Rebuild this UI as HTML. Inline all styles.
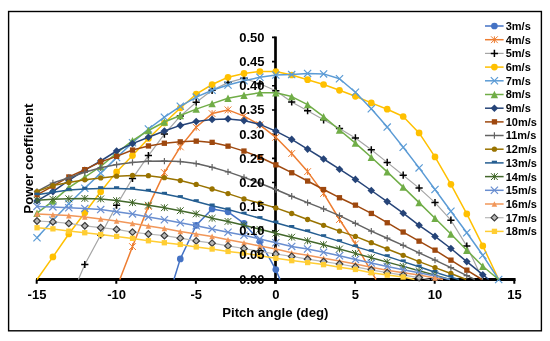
<!DOCTYPE html>
<html><head><meta charset="utf-8"><title>Power coefficient vs pitch angle</title>
<style>html,body{margin:0;padding:0;background:#fff}body{width:550px;height:341px;overflow:hidden;position:relative}</style></head>
<body>
<svg width="550" height="341" viewBox="0 0 550 341" style="position:absolute;left:0;top:0;filter:blur(0.3px)">
<rect x="0" y="0" width="550" height="341" fill="#fff"/>
<rect x="8.6" y="11.5" width="532.8" height="319.3" fill="#fff" stroke="#000" stroke-width="1.4"/>
<g stroke="#000" fill="none">
<path d="M275.5 36.5V283.7" stroke-width="2.7"/>
<path d="M36 279.5H515.6" stroke-width="2.9"/>
<path d="M272.0 279.3H275.5M272.0 255.1H275.5M272.0 230.9H275.5M272.0 206.7H275.5M272.0 182.5H275.5M272.0 158.4H275.5M272.0 134.2H275.5M272.0 110H275.5M272.0 85.8H275.5M272.0 61.6H275.5M272.0 37.4H275.5" stroke-width="1.6"/>
<path d="M36.7 279.5V283.7M116.3 279.5V283.7M195.9 279.5V283.7M275.5 279.5V283.7M355.1 279.5V283.7M434.7 279.5V283.7M514.3 279.5V283.7" stroke-width="2"/>
</g>
<path d="M173.9 279.5L180.3 258.9L196.2 225.3L212.1 208.9L228 211.8L244 223.4L259.9 241.3L275.8 269.6L280 279.5" stroke="#4472C4" stroke-width="1.5" fill="none" stroke-linejoin="round"/>
<circle cx="180.3" cy="258.9" r="3.35" fill="#4472C4"/>
<circle cx="196.2" cy="225.3" r="3.35" fill="#4472C4"/>
<circle cx="212.1" cy="208.9" r="3.35" fill="#4472C4"/>
<circle cx="228" cy="211.8" r="3.35" fill="#4472C4"/>
<circle cx="244" cy="223.4" r="3.35" fill="#4472C4"/>
<circle cx="259.9" cy="241.3" r="3.35" fill="#4472C4"/>
<circle cx="275.8" cy="269.6" r="3.35" fill="#4472C4"/>
<path d="M119.8 279.5L132.5 246.6L148.4 206.4L164.4 172.6L180.3 146.9L196.2 127.3L212.1 113.6L228 109.9L244 116.1L259.9 124.9L275.8 137.3L291.7 153.5L307.6 171.6L323.6 193.4L339.5 219.5L355.4 243.9L371.3 271.5L376 279.5" stroke="#ED7D31" stroke-width="1.5" fill="none" stroke-linejoin="round"/>
<path d="M129.1 243.2L135.9 250M129.1 250L135.9 243.2M132.5 243.2L132.5 250" stroke="#ED7D31" stroke-width="1.0" fill="none"/>
<path d="M145 203L151.8 209.8M145 209.8L151.8 203M148.4 203L148.4 209.8" stroke="#ED7D31" stroke-width="1.0" fill="none"/>
<path d="M161 169.2L167.8 176M161 176L167.8 169.2M164.4 169.2L164.4 176" stroke="#ED7D31" stroke-width="1.0" fill="none"/>
<path d="M176.9 143.5L183.7 150.3M176.9 150.3L183.7 143.5M180.3 143.5L180.3 150.3" stroke="#ED7D31" stroke-width="1.0" fill="none"/>
<path d="M192.8 123.9L199.6 130.7M192.8 130.7L199.6 123.9M196.2 123.9L196.2 130.7" stroke="#ED7D31" stroke-width="1.0" fill="none"/>
<path d="M208.7 110.2L215.5 117M208.7 117L215.5 110.2M212.1 110.2L212.1 117" stroke="#ED7D31" stroke-width="1.0" fill="none"/>
<path d="M224.6 106.5L231.4 113.3M224.6 113.3L231.4 106.5M228 106.5L228 113.3" stroke="#ED7D31" stroke-width="1.0" fill="none"/>
<path d="M240.6 112.7L247.4 119.5M240.6 119.5L247.4 112.7M244 112.7L244 119.5" stroke="#ED7D31" stroke-width="1.0" fill="none"/>
<path d="M256.5 121.5L263.3 128.3M256.5 128.3L263.3 121.5M259.9 121.5L259.9 128.3" stroke="#ED7D31" stroke-width="1.0" fill="none"/>
<path d="M272.4 133.9L279.2 140.7M272.4 140.7L279.2 133.9M275.8 133.9L275.8 140.7" stroke="#ED7D31" stroke-width="1.0" fill="none"/>
<path d="M288.3 150.1L295.1 156.9M288.3 156.9L295.1 150.1M291.7 150.1L291.7 156.9" stroke="#ED7D31" stroke-width="1.0" fill="none"/>
<path d="M304.2 168.2L311 175M304.2 175L311 168.2M307.6 168.2L307.6 175" stroke="#ED7D31" stroke-width="1.0" fill="none"/>
<path d="M320.2 190L327 196.8M320.2 196.8L327 190M323.6 190L323.6 196.8" stroke="#ED7D31" stroke-width="1.0" fill="none"/>
<path d="M336.1 216.1L342.9 222.9M336.1 222.9L342.9 216.1M339.5 216.1L339.5 222.9" stroke="#ED7D31" stroke-width="1.0" fill="none"/>
<path d="M352 240.5L358.8 247.3M352 247.3L358.8 240.5M355.4 240.5L355.4 247.3" stroke="#ED7D31" stroke-width="1.0" fill="none"/>
<path d="M367.9 268.1L374.7 274.9M367.9 274.9L374.7 268.1M371.3 268.1L371.3 274.9" stroke="#ED7D31" stroke-width="1.0" fill="none"/>
<path d="M78.4 279.5L84.8 264.5L100.7 235L116.6 205.2L132.5 178.4L148.4 155.6L164.4 134.1L180.3 116.1L196.2 102.2L212.1 90.3L228 82.6L244 78.2L259.9 83.8L275.8 90.8L291.7 101.9L307.6 110.7L323.6 119.8L339.5 128.6L355.4 137.9L371.3 149.8L387.2 162.4L403.2 175.2L419.1 188.1L435 202.6L450.9 220.2L466.8 246.1L482.7 279.5" stroke="#A5A5A5" stroke-width="1.2" fill="none" stroke-linejoin="round"/>
<path d="M81.2 264.5L88.4 264.5M84.8 260.9L84.8 268.1" stroke="#000" stroke-width="1.5" fill="none"/>
<path d="M97.1 235L104.3 235M100.7 231.4L100.7 238.6" stroke="#000" stroke-width="1.5" fill="none"/>
<path d="M113 205.2L120.2 205.2M116.6 201.6L116.6 208.8" stroke="#000" stroke-width="1.5" fill="none"/>
<path d="M128.9 178.4L136.1 178.4M132.5 174.8L132.5 182" stroke="#000" stroke-width="1.5" fill="none"/>
<path d="M144.8 155.6L152 155.6M148.4 152L148.4 159.2" stroke="#000" stroke-width="1.5" fill="none"/>
<path d="M160.8 134.1L168 134.1M164.4 130.5L164.4 137.7" stroke="#000" stroke-width="1.5" fill="none"/>
<path d="M176.7 116.1L183.9 116.1M180.3 112.5L180.3 119.7" stroke="#000" stroke-width="1.5" fill="none"/>
<path d="M192.6 102.2L199.8 102.2M196.2 98.6L196.2 105.8" stroke="#000" stroke-width="1.5" fill="none"/>
<path d="M208.5 90.3L215.7 90.3M212.1 86.7L212.1 93.9" stroke="#000" stroke-width="1.5" fill="none"/>
<path d="M224.4 82.6L231.6 82.6M228 79L228 86.2" stroke="#000" stroke-width="1.5" fill="none"/>
<path d="M240.4 78.2L247.6 78.2M244 74.6L244 81.8" stroke="#000" stroke-width="1.5" fill="none"/>
<path d="M256.3 83.8L263.5 83.8M259.9 80.2L259.9 87.4" stroke="#000" stroke-width="1.5" fill="none"/>
<path d="M272.2 90.8L279.4 90.8M275.8 87.2L275.8 94.4" stroke="#000" stroke-width="1.5" fill="none"/>
<path d="M288.1 101.9L295.3 101.9M291.7 98.3L291.7 105.5" stroke="#000" stroke-width="1.5" fill="none"/>
<path d="M304 110.7L311.2 110.7M307.6 107.1L307.6 114.3" stroke="#000" stroke-width="1.5" fill="none"/>
<path d="M320 119.8L327.2 119.8M323.6 116.2L323.6 123.4" stroke="#000" stroke-width="1.5" fill="none"/>
<path d="M335.9 128.6L343.1 128.6M339.5 125L339.5 132.2" stroke="#000" stroke-width="1.5" fill="none"/>
<path d="M351.8 137.9L359 137.9M355.4 134.3L355.4 141.5" stroke="#000" stroke-width="1.5" fill="none"/>
<path d="M367.7 149.8L374.9 149.8M371.3 146.2L371.3 153.4" stroke="#000" stroke-width="1.5" fill="none"/>
<path d="M383.6 162.4L390.8 162.4M387.2 158.8L387.2 166" stroke="#000" stroke-width="1.5" fill="none"/>
<path d="M399.6 175.2L406.8 175.2M403.2 171.6L403.2 178.8" stroke="#000" stroke-width="1.5" fill="none"/>
<path d="M415.5 188.1L422.7 188.1M419.1 184.5L419.1 191.7" stroke="#000" stroke-width="1.5" fill="none"/>
<path d="M431.4 202.6L438.6 202.6M435 199L435 206.2" stroke="#000" stroke-width="1.5" fill="none"/>
<path d="M447.3 220.2L454.5 220.2M450.9 216.6L450.9 223.8" stroke="#000" stroke-width="1.5" fill="none"/>
<path d="M463.2 246.1L470.4 246.1M466.8 242.5L466.8 249.7" stroke="#000" stroke-width="1.5" fill="none"/>
<path d="M37 279.5L52.9 256.9L68.8 234L84.8 212.7L100.7 191.7L116.6 171.9L132.5 155.6L148.4 138.5L164.4 123L180.3 108L196.2 94.2L212.1 84.5L228 77.3L244 73.4L259.9 71.5L275.8 71.5L291.7 75L307.6 79.7L323.6 84.5L339.5 90.3L355.4 96.3L371.3 102.9L387.2 109.2L403.2 116.5L419.1 132.9L435 156.9L450.9 184.3L466.8 213.9L482.8 245.9L498.7 279.5" stroke="#FFC000" stroke-width="1.5" fill="none" stroke-linejoin="round"/>
<circle cx="52.9" cy="256.9" r="3.35" fill="#FFC000"/>
<circle cx="68.8" cy="234" r="3.35" fill="#FFC000"/>
<circle cx="84.8" cy="212.7" r="3.35" fill="#FFC000"/>
<circle cx="100.7" cy="191.7" r="3.35" fill="#FFC000"/>
<circle cx="116.6" cy="171.9" r="3.35" fill="#FFC000"/>
<circle cx="132.5" cy="155.6" r="3.35" fill="#FFC000"/>
<circle cx="148.4" cy="138.5" r="3.35" fill="#FFC000"/>
<circle cx="164.4" cy="123" r="3.35" fill="#FFC000"/>
<circle cx="180.3" cy="108" r="3.35" fill="#FFC000"/>
<circle cx="196.2" cy="94.2" r="3.35" fill="#FFC000"/>
<circle cx="212.1" cy="84.5" r="3.35" fill="#FFC000"/>
<circle cx="228" cy="77.3" r="3.35" fill="#FFC000"/>
<circle cx="244" cy="73.4" r="3.35" fill="#FFC000"/>
<circle cx="259.9" cy="71.5" r="3.35" fill="#FFC000"/>
<circle cx="275.8" cy="71.5" r="3.35" fill="#FFC000"/>
<circle cx="291.7" cy="75" r="3.35" fill="#FFC000"/>
<circle cx="307.6" cy="79.7" r="3.35" fill="#FFC000"/>
<circle cx="323.6" cy="84.5" r="3.35" fill="#FFC000"/>
<circle cx="339.5" cy="90.3" r="3.35" fill="#FFC000"/>
<circle cx="355.4" cy="96.3" r="3.35" fill="#FFC000"/>
<circle cx="371.3" cy="102.9" r="3.35" fill="#FFC000"/>
<circle cx="387.2" cy="109.2" r="3.35" fill="#FFC000"/>
<circle cx="403.2" cy="116.5" r="3.35" fill="#FFC000"/>
<circle cx="419.1" cy="132.9" r="3.35" fill="#FFC000"/>
<circle cx="435" cy="156.9" r="3.35" fill="#FFC000"/>
<circle cx="450.9" cy="184.3" r="3.35" fill="#FFC000"/>
<circle cx="466.8" cy="213.9" r="3.35" fill="#FFC000"/>
<circle cx="482.8" cy="245.9" r="3.35" fill="#FFC000"/>
<path d="M37 237.7L52.9 220.2L68.8 203.8L84.8 188.3L100.7 173.1L116.6 157.6L132.5 142.7L148.4 129L164.4 117.2L180.3 106.3L196.2 97.1L212.1 90.3L228 85L244 80.7L259.9 77.3L275.8 75L291.7 74.6L307.6 73.4L323.6 73.9L339.5 78.7L355.4 92.3L371.3 108.7L387.2 127.1L403.2 147.2L419.1 167.9L435 189.5L450.9 211.3L466.8 232.7L482.8 255.3L498.7 279.5" stroke="#5B9BD5" stroke-width="1.5" fill="none" stroke-linejoin="round"/>
<path d="M33.4 234.1L40.6 241.3M33.4 241.3L40.6 234.1" stroke="#5B9BD5" stroke-width="1.2" fill="none"/>
<path d="M49.3 216.6L56.5 223.8M49.3 223.8L56.5 216.6" stroke="#5B9BD5" stroke-width="1.2" fill="none"/>
<path d="M65.2 200.2L72.4 207.4M65.2 207.4L72.4 200.2" stroke="#5B9BD5" stroke-width="1.2" fill="none"/>
<path d="M81.2 184.7L88.4 191.9M81.2 191.9L88.4 184.7" stroke="#5B9BD5" stroke-width="1.2" fill="none"/>
<path d="M97.1 169.5L104.3 176.7M97.1 176.7L104.3 169.5" stroke="#5B9BD5" stroke-width="1.2" fill="none"/>
<path d="M113 154L120.2 161.2M113 161.2L120.2 154" stroke="#5B9BD5" stroke-width="1.2" fill="none"/>
<path d="M128.9 139.1L136.1 146.3M128.9 146.3L136.1 139.1" stroke="#5B9BD5" stroke-width="1.2" fill="none"/>
<path d="M144.8 125.4L152 132.6M144.8 132.6L152 125.4" stroke="#5B9BD5" stroke-width="1.2" fill="none"/>
<path d="M160.8 113.6L168 120.8M160.8 120.8L168 113.6" stroke="#5B9BD5" stroke-width="1.2" fill="none"/>
<path d="M176.7 102.7L183.9 109.9M176.7 109.9L183.9 102.7" stroke="#5B9BD5" stroke-width="1.2" fill="none"/>
<path d="M192.6 93.5L199.8 100.7M192.6 100.7L199.8 93.5" stroke="#5B9BD5" stroke-width="1.2" fill="none"/>
<path d="M208.5 86.7L215.7 93.9M208.5 93.9L215.7 86.7" stroke="#5B9BD5" stroke-width="1.2" fill="none"/>
<path d="M224.4 81.4L231.6 88.6M224.4 88.6L231.6 81.4" stroke="#5B9BD5" stroke-width="1.2" fill="none"/>
<path d="M240.4 77.1L247.6 84.3M240.4 84.3L247.6 77.1" stroke="#5B9BD5" stroke-width="1.2" fill="none"/>
<path d="M256.3 73.7L263.5 80.9M256.3 80.9L263.5 73.7" stroke="#5B9BD5" stroke-width="1.2" fill="none"/>
<path d="M272.2 71.4L279.4 78.6M272.2 78.6L279.4 71.4" stroke="#5B9BD5" stroke-width="1.2" fill="none"/>
<path d="M288.1 71L295.3 78.2M288.1 78.2L295.3 71" stroke="#5B9BD5" stroke-width="1.2" fill="none"/>
<path d="M304 69.8L311.2 77M304 77L311.2 69.8" stroke="#5B9BD5" stroke-width="1.2" fill="none"/>
<path d="M320 70.3L327.2 77.5M320 77.5L327.2 70.3" stroke="#5B9BD5" stroke-width="1.2" fill="none"/>
<path d="M335.9 75.1L343.1 82.3M335.9 82.3L343.1 75.1" stroke="#5B9BD5" stroke-width="1.2" fill="none"/>
<path d="M351.8 88.7L359 95.9M351.8 95.9L359 88.7" stroke="#5B9BD5" stroke-width="1.2" fill="none"/>
<path d="M367.7 105.1L374.9 112.3M367.7 112.3L374.9 105.1" stroke="#5B9BD5" stroke-width="1.2" fill="none"/>
<path d="M383.6 123.5L390.8 130.7M383.6 130.7L390.8 123.5" stroke="#5B9BD5" stroke-width="1.2" fill="none"/>
<path d="M399.6 143.6L406.8 150.8M399.6 150.8L406.8 143.6" stroke="#5B9BD5" stroke-width="1.2" fill="none"/>
<path d="M415.5 164.3L422.7 171.5M415.5 171.5L422.7 164.3" stroke="#5B9BD5" stroke-width="1.2" fill="none"/>
<path d="M431.4 185.9L438.6 193.1M431.4 193.1L438.6 185.9" stroke="#5B9BD5" stroke-width="1.2" fill="none"/>
<path d="M447.3 207.7L454.5 214.9M447.3 214.9L454.5 207.7" stroke="#5B9BD5" stroke-width="1.2" fill="none"/>
<path d="M463.2 229.1L470.4 236.3M463.2 236.3L470.4 229.1" stroke="#5B9BD5" stroke-width="1.2" fill="none"/>
<path d="M479.2 251.7L486.4 258.9M479.2 258.9L486.4 251.7" stroke="#5B9BD5" stroke-width="1.2" fill="none"/>
<path d="M495.1 275.9L502.3 283.1M495.1 283.1L502.3 275.9" stroke="#5B9BD5" stroke-width="1.2" fill="none"/>
<path d="M37 213.2L52.9 201.1L68.8 187.6L84.8 177.2L100.7 166.5L116.6 153.2L132.5 140.6L148.4 130.5L164.4 122L180.3 115.5L196.2 109.1L212.1 103.6L228 98.3L244 95.2L259.9 92.8L275.8 92.8L291.7 96.6L307.6 104.6L323.6 116.7L339.5 130L355.4 143.1L371.3 157.3L387.2 171.9L403.2 187.1L419.1 202.6L435 218.2L450.9 234L466.8 250.2L482.8 266.2L498.6 279.5" stroke="#70AD47" stroke-width="1.5" fill="none" stroke-linejoin="round"/>
<path d="M37 209.5L40.7 216.9L33.3 216.9Z" fill="#70AD47"/>
<path d="M52.9 197.4L56.6 204.8L49.2 204.8Z" fill="#70AD47"/>
<path d="M68.8 183.9L72.5 191.3L65.1 191.3Z" fill="#70AD47"/>
<path d="M84.8 173.5L88.5 180.9L81.1 180.9Z" fill="#70AD47"/>
<path d="M100.7 162.8L104.4 170.2L97 170.2Z" fill="#70AD47"/>
<path d="M116.6 149.5L120.3 156.9L112.9 156.9Z" fill="#70AD47"/>
<path d="M132.5 136.9L136.2 144.3L128.8 144.3Z" fill="#70AD47"/>
<path d="M148.4 126.8L152.1 134.2L144.7 134.2Z" fill="#70AD47"/>
<path d="M164.4 118.3L168.1 125.7L160.7 125.7Z" fill="#70AD47"/>
<path d="M180.3 111.8L184 119.2L176.6 119.2Z" fill="#70AD47"/>
<path d="M196.2 105.4L199.9 112.8L192.5 112.8Z" fill="#70AD47"/>
<path d="M212.1 99.9L215.8 107.3L208.4 107.3Z" fill="#70AD47"/>
<path d="M228 94.6L231.7 102L224.3 102Z" fill="#70AD47"/>
<path d="M244 91.5L247.7 98.9L240.3 98.9Z" fill="#70AD47"/>
<path d="M259.9 89.1L263.6 96.5L256.2 96.5Z" fill="#70AD47"/>
<path d="M275.8 89.1L279.5 96.5L272.1 96.5Z" fill="#70AD47"/>
<path d="M291.7 92.9L295.4 100.3L288 100.3Z" fill="#70AD47"/>
<path d="M307.6 100.9L311.3 108.3L303.9 108.3Z" fill="#70AD47"/>
<path d="M323.6 113L327.3 120.4L319.9 120.4Z" fill="#70AD47"/>
<path d="M339.5 126.3L343.2 133.7L335.8 133.7Z" fill="#70AD47"/>
<path d="M355.4 139.4L359.1 146.8L351.7 146.8Z" fill="#70AD47"/>
<path d="M371.3 153.6L375 161L367.6 161Z" fill="#70AD47"/>
<path d="M387.2 168.2L390.9 175.6L383.5 175.6Z" fill="#70AD47"/>
<path d="M403.2 183.4L406.9 190.8L399.5 190.8Z" fill="#70AD47"/>
<path d="M419.1 198.9L422.8 206.3L415.4 206.3Z" fill="#70AD47"/>
<path d="M435 214.5L438.7 221.9L431.3 221.9Z" fill="#70AD47"/>
<path d="M450.9 230.3L454.6 237.7L447.2 237.7Z" fill="#70AD47"/>
<path d="M466.8 246.5L470.5 253.9L463.1 253.9Z" fill="#70AD47"/>
<path d="M482.8 262.5L486.5 269.9L479.1 269.9Z" fill="#70AD47"/>
<path d="M37 200.9L52.9 191.6L68.8 180.3L84.8 170.2L100.7 161L116.6 151L132.5 143.6L148.4 137.3L164.4 131L180.3 125.4L196.2 121.5L212.1 119.4L228 118.9L244 120.6L259.9 124.4L275.8 131.1L291.7 139.4L307.6 149.1L323.6 159L339.5 169.2L355.4 179.4L371.3 190.5L387.2 201.6L403.2 213.2L419.1 225.3L435 236.4L450.9 248.5L466.8 261.6L482.8 274.7L488.7 279.5" stroke="#264478" stroke-width="1.5" fill="none" stroke-linejoin="round"/>
<path d="M37 197.1L40.8 200.9L37 204.7L33.2 200.9Z" fill="#264478"/>
<path d="M52.9 187.8L56.7 191.6L52.9 195.4L49.1 191.6Z" fill="#264478"/>
<path d="M68.8 176.5L72.6 180.3L68.8 184.1L65 180.3Z" fill="#264478"/>
<path d="M84.8 166.4L88.6 170.2L84.8 174L81 170.2Z" fill="#264478"/>
<path d="M100.7 157.2L104.5 161L100.7 164.8L96.9 161Z" fill="#264478"/>
<path d="M116.6 147.2L120.4 151L116.6 154.8L112.8 151Z" fill="#264478"/>
<path d="M132.5 139.8L136.3 143.6L132.5 147.4L128.7 143.6Z" fill="#264478"/>
<path d="M148.4 133.5L152.2 137.3L148.4 141.1L144.6 137.3Z" fill="#264478"/>
<path d="M164.4 127.2L168.2 131L164.4 134.8L160.6 131Z" fill="#264478"/>
<path d="M180.3 121.6L184.1 125.4L180.3 129.2L176.5 125.4Z" fill="#264478"/>
<path d="M196.2 117.7L200 121.5L196.2 125.3L192.4 121.5Z" fill="#264478"/>
<path d="M212.1 115.6L215.9 119.4L212.1 123.2L208.3 119.4Z" fill="#264478"/>
<path d="M228 115.1L231.8 118.9L228 122.7L224.2 118.9Z" fill="#264478"/>
<path d="M244 116.8L247.8 120.6L244 124.4L240.2 120.6Z" fill="#264478"/>
<path d="M259.9 120.6L263.7 124.4L259.9 128.2L256.1 124.4Z" fill="#264478"/>
<path d="M275.8 127.3L279.6 131.1L275.8 134.9L272 131.1Z" fill="#264478"/>
<path d="M291.7 135.6L295.5 139.4L291.7 143.2L287.9 139.4Z" fill="#264478"/>
<path d="M307.6 145.3L311.4 149.1L307.6 152.9L303.8 149.1Z" fill="#264478"/>
<path d="M323.6 155.2L327.4 159L323.6 162.8L319.8 159Z" fill="#264478"/>
<path d="M339.5 165.4L343.3 169.2L339.5 173L335.7 169.2Z" fill="#264478"/>
<path d="M355.4 175.6L359.2 179.4L355.4 183.2L351.6 179.4Z" fill="#264478"/>
<path d="M371.3 186.7L375.1 190.5L371.3 194.3L367.5 190.5Z" fill="#264478"/>
<path d="M387.2 197.8L391 201.6L387.2 205.4L383.4 201.6Z" fill="#264478"/>
<path d="M403.2 209.4L407 213.2L403.2 217L399.4 213.2Z" fill="#264478"/>
<path d="M419.1 221.5L422.9 225.3L419.1 229.1L415.3 225.3Z" fill="#264478"/>
<path d="M435 232.6L438.8 236.4L435 240.2L431.2 236.4Z" fill="#264478"/>
<path d="M450.9 244.7L454.7 248.5L450.9 252.3L447.1 248.5Z" fill="#264478"/>
<path d="M466.8 257.8L470.6 261.6L466.8 265.4L463 261.6Z" fill="#264478"/>
<path d="M482.8 270.9L486.6 274.7L482.8 278.5L479 274.7Z" fill="#264478"/>
<path d="M37 194.8L52.9 186.1L68.8 176.9L84.8 169.7L100.7 161.9L116.6 156.4L132.5 150L148.4 146L164.4 143.3L180.3 141.8L196.2 141.1L212.1 142.4L228 146.1L244 151.1L259.9 157.3L275.8 164.8L291.7 172.7L307.6 181L323.6 189.5L339.5 197.7L355.4 205.2L371.3 213.4L387.2 222.7L403.2 232.1L419.1 241.1L435 250.2L450.9 260.1L466.8 270.2L482 279.5" stroke="#9E480E" stroke-width="1.5" fill="none" stroke-linejoin="round"/>
<rect x="34.4" y="192.2" width="5.3" height="5.3" fill="#9E480E"/>
<rect x="50.3" y="183.5" width="5.3" height="5.3" fill="#9E480E"/>
<rect x="66.2" y="174.3" width="5.3" height="5.3" fill="#9E480E"/>
<rect x="82.1" y="167" width="5.3" height="5.3" fill="#9E480E"/>
<rect x="98" y="159.3" width="5.3" height="5.3" fill="#9E480E"/>
<rect x="114" y="153.7" width="5.3" height="5.3" fill="#9E480E"/>
<rect x="129.9" y="147.4" width="5.3" height="5.3" fill="#9E480E"/>
<rect x="145.8" y="143.3" width="5.3" height="5.3" fill="#9E480E"/>
<rect x="161.7" y="140.6" width="5.3" height="5.3" fill="#9E480E"/>
<rect x="177.6" y="139.2" width="5.3" height="5.3" fill="#9E480E"/>
<rect x="193.6" y="138.5" width="5.3" height="5.3" fill="#9E480E"/>
<rect x="209.5" y="139.7" width="5.3" height="5.3" fill="#9E480E"/>
<rect x="225.4" y="143.5" width="5.3" height="5.3" fill="#9E480E"/>
<rect x="241.3" y="148.4" width="5.3" height="5.3" fill="#9E480E"/>
<rect x="257.2" y="154.7" width="5.3" height="5.3" fill="#9E480E"/>
<rect x="273.2" y="162.2" width="5.3" height="5.3" fill="#9E480E"/>
<rect x="289.1" y="170.1" width="5.3" height="5.3" fill="#9E480E"/>
<rect x="305" y="178.4" width="5.3" height="5.3" fill="#9E480E"/>
<rect x="320.9" y="186.9" width="5.3" height="5.3" fill="#9E480E"/>
<rect x="336.8" y="195.1" width="5.3" height="5.3" fill="#9E480E"/>
<rect x="352.8" y="202.5" width="5.3" height="5.3" fill="#9E480E"/>
<rect x="368.7" y="210.8" width="5.3" height="5.3" fill="#9E480E"/>
<rect x="384.6" y="220.1" width="5.3" height="5.3" fill="#9E480E"/>
<rect x="400.5" y="229.4" width="5.3" height="5.3" fill="#9E480E"/>
<rect x="416.4" y="238.5" width="5.3" height="5.3" fill="#9E480E"/>
<rect x="432.4" y="247.5" width="5.3" height="5.3" fill="#9E480E"/>
<rect x="448.3" y="257.5" width="5.3" height="5.3" fill="#9E480E"/>
<rect x="464.2" y="267.5" width="5.3" height="5.3" fill="#9E480E"/>
<path d="M37 191.4L52.9 183L68.8 177.7L84.8 172.3L100.7 167.7L116.6 164.6L132.5 162.4L148.4 161.2L164.4 161.1L180.3 161.6L196.2 163.6L212.1 167.3L228 171.9L244 177.4L259.9 183.2L275.8 189.5L291.7 196.3L307.6 202.6L323.6 208.9L339.5 215.6L355.4 223.4L371.3 231.1L387.2 238.2L403.2 245.4L419.1 252.9L435 260.1L450.9 267.6L466.8 275.6L474.8 279.5" stroke="#636363" stroke-width="1.5" fill="none" stroke-linejoin="round"/>
<path d="M33.8 191.4L40.2 191.4M37 188.2L37 194.6" stroke="#636363" stroke-width="1.2" fill="none"/>
<path d="M49.7 183L56.1 183M52.9 179.8L52.9 186.2" stroke="#636363" stroke-width="1.2" fill="none"/>
<path d="M65.6 177.7L72 177.7M68.8 174.5L68.8 180.9" stroke="#636363" stroke-width="1.2" fill="none"/>
<path d="M81.6 172.3L88 172.3M84.8 169.1L84.8 175.5" stroke="#636363" stroke-width="1.2" fill="none"/>
<path d="M97.5 167.7L103.9 167.7M100.7 164.5L100.7 170.9" stroke="#636363" stroke-width="1.2" fill="none"/>
<path d="M113.4 164.6L119.8 164.6M116.6 161.4L116.6 167.8" stroke="#636363" stroke-width="1.2" fill="none"/>
<path d="M129.3 162.4L135.7 162.4M132.5 159.2L132.5 165.6" stroke="#636363" stroke-width="1.2" fill="none"/>
<path d="M145.2 161.2L151.6 161.2M148.4 158L148.4 164.4" stroke="#636363" stroke-width="1.2" fill="none"/>
<path d="M161.2 161.1L167.6 161.1M164.4 157.9L164.4 164.3" stroke="#636363" stroke-width="1.2" fill="none"/>
<path d="M177.1 161.6L183.5 161.6M180.3 158.4L180.3 164.8" stroke="#636363" stroke-width="1.2" fill="none"/>
<path d="M193 163.6L199.4 163.6M196.2 160.4L196.2 166.8" stroke="#636363" stroke-width="1.2" fill="none"/>
<path d="M208.9 167.3L215.3 167.3M212.1 164.1L212.1 170.5" stroke="#636363" stroke-width="1.2" fill="none"/>
<path d="M224.8 171.9L231.2 171.9M228 168.7L228 175.1" stroke="#636363" stroke-width="1.2" fill="none"/>
<path d="M240.8 177.4L247.2 177.4M244 174.2L244 180.6" stroke="#636363" stroke-width="1.2" fill="none"/>
<path d="M256.7 183.2L263.1 183.2M259.9 180L259.9 186.4" stroke="#636363" stroke-width="1.2" fill="none"/>
<path d="M272.6 189.5L279 189.5M275.8 186.3L275.8 192.7" stroke="#636363" stroke-width="1.2" fill="none"/>
<path d="M288.5 196.3L294.9 196.3M291.7 193.1L291.7 199.5" stroke="#636363" stroke-width="1.2" fill="none"/>
<path d="M304.4 202.6L310.8 202.6M307.6 199.4L307.6 205.8" stroke="#636363" stroke-width="1.2" fill="none"/>
<path d="M320.4 208.9L326.8 208.9M323.6 205.7L323.6 212.1" stroke="#636363" stroke-width="1.2" fill="none"/>
<path d="M336.3 215.6L342.7 215.6M339.5 212.4L339.5 218.8" stroke="#636363" stroke-width="1.2" fill="none"/>
<path d="M352.2 223.4L358.6 223.4M355.4 220.2L355.4 226.6" stroke="#636363" stroke-width="1.2" fill="none"/>
<path d="M368.1 231.1L374.5 231.1M371.3 227.9L371.3 234.3" stroke="#636363" stroke-width="1.2" fill="none"/>
<path d="M384 238.2L390.4 238.2M387.2 235L387.2 241.4" stroke="#636363" stroke-width="1.2" fill="none"/>
<path d="M400 245.4L406.4 245.4M403.2 242.2L403.2 248.6" stroke="#636363" stroke-width="1.2" fill="none"/>
<path d="M415.9 252.9L422.3 252.9M419.1 249.7L419.1 256.1" stroke="#636363" stroke-width="1.2" fill="none"/>
<path d="M431.8 260.1L438.2 260.1M435 256.9L435 263.3" stroke="#636363" stroke-width="1.2" fill="none"/>
<path d="M447.7 267.6L454.1 267.6M450.9 264.4L450.9 270.8" stroke="#636363" stroke-width="1.2" fill="none"/>
<path d="M463.6 275.6L470 275.6M466.8 272.4L466.8 278.8" stroke="#636363" stroke-width="1.2" fill="none"/>
<path d="M37 191.6L52.9 185.6L68.8 182.4L84.8 179.8L100.7 177.9L116.6 176.2L132.5 175.5L148.4 175.7L164.4 177.7L180.3 180.6L196.2 184.4L212.1 189L228 193.6L244 198.9L259.9 203.2L275.8 207.9L291.7 213.5L307.6 219.5L323.6 225.3L339.5 231.1L355.4 236.4L371.3 242.7L387.2 249L403.2 255.3L419.1 261.6L435 267.6L450.9 273.5L466.2 279.5" stroke="#997300" stroke-width="1.5" fill="none" stroke-linejoin="round"/>
<circle cx="37" cy="191.6" r="2.65" fill="#997300"/>
<circle cx="52.9" cy="185.6" r="2.65" fill="#997300"/>
<circle cx="68.8" cy="182.4" r="2.65" fill="#997300"/>
<circle cx="84.8" cy="179.8" r="2.65" fill="#997300"/>
<circle cx="100.7" cy="177.9" r="2.65" fill="#997300"/>
<circle cx="116.6" cy="176.2" r="2.65" fill="#997300"/>
<circle cx="132.5" cy="175.5" r="2.65" fill="#997300"/>
<circle cx="148.4" cy="175.7" r="2.65" fill="#997300"/>
<circle cx="164.4" cy="177.7" r="2.65" fill="#997300"/>
<circle cx="180.3" cy="180.6" r="2.65" fill="#997300"/>
<circle cx="196.2" cy="184.4" r="2.65" fill="#997300"/>
<circle cx="212.1" cy="189" r="2.65" fill="#997300"/>
<circle cx="228" cy="193.6" r="2.65" fill="#997300"/>
<circle cx="244" cy="198.9" r="2.65" fill="#997300"/>
<circle cx="259.9" cy="203.2" r="2.65" fill="#997300"/>
<circle cx="275.8" cy="207.9" r="2.65" fill="#997300"/>
<circle cx="291.7" cy="213.5" r="2.65" fill="#997300"/>
<circle cx="307.6" cy="219.5" r="2.65" fill="#997300"/>
<circle cx="323.6" cy="225.3" r="2.65" fill="#997300"/>
<circle cx="339.5" cy="231.1" r="2.65" fill="#997300"/>
<circle cx="355.4" cy="236.4" r="2.65" fill="#997300"/>
<circle cx="371.3" cy="242.7" r="2.65" fill="#997300"/>
<circle cx="387.2" cy="249" r="2.65" fill="#997300"/>
<circle cx="403.2" cy="255.3" r="2.65" fill="#997300"/>
<circle cx="419.1" cy="261.6" r="2.65" fill="#997300"/>
<circle cx="435" cy="267.6" r="2.65" fill="#997300"/>
<circle cx="450.9" cy="273.5" r="2.65" fill="#997300"/>
<path d="M37 194.8L52.9 192.2L68.8 190L84.8 189L100.7 188.4L116.6 188.4L132.5 189L148.4 191L164.4 194L180.3 197.3L196.2 201.4L212.1 205.7L228 209.6L244 213.9L259.9 218.3L275.8 222.7L291.7 227.2L307.6 231.5L323.6 236.4L339.5 241.4L355.4 246.6L371.3 251.4L387.2 256.4L403.2 261.6L419.1 266.7L435 272.2L450.9 277.1L458.9 279.5" stroke="#255E91" stroke-width="1.5" fill="none" stroke-linejoin="round"/>
<rect x="34.4" y="192.6" width="5.2" height="2.4" fill="#255E91"/>
<rect x="50.3" y="190" width="5.2" height="2.4" fill="#255E91"/>
<rect x="66.2" y="187.8" width="5.2" height="2.4" fill="#255E91"/>
<rect x="82.2" y="186.8" width="5.2" height="2.4" fill="#255E91"/>
<rect x="98.1" y="186.2" width="5.2" height="2.4" fill="#255E91"/>
<rect x="114" y="186.2" width="5.2" height="2.4" fill="#255E91"/>
<rect x="129.9" y="186.8" width="5.2" height="2.4" fill="#255E91"/>
<rect x="145.8" y="188.8" width="5.2" height="2.4" fill="#255E91"/>
<rect x="161.8" y="191.8" width="5.2" height="2.4" fill="#255E91"/>
<rect x="177.7" y="195.1" width="5.2" height="2.4" fill="#255E91"/>
<rect x="193.6" y="199.2" width="5.2" height="2.4" fill="#255E91"/>
<rect x="209.5" y="203.5" width="5.2" height="2.4" fill="#255E91"/>
<rect x="225.4" y="207.4" width="5.2" height="2.4" fill="#255E91"/>
<rect x="241.4" y="211.7" width="5.2" height="2.4" fill="#255E91"/>
<rect x="257.3" y="216.1" width="5.2" height="2.4" fill="#255E91"/>
<rect x="273.2" y="220.5" width="5.2" height="2.4" fill="#255E91"/>
<rect x="289.1" y="225" width="5.2" height="2.4" fill="#255E91"/>
<rect x="305" y="229.3" width="5.2" height="2.4" fill="#255E91"/>
<rect x="321" y="234.2" width="5.2" height="2.4" fill="#255E91"/>
<rect x="336.9" y="239.2" width="5.2" height="2.4" fill="#255E91"/>
<rect x="352.8" y="244.4" width="5.2" height="2.4" fill="#255E91"/>
<rect x="368.7" y="249.2" width="5.2" height="2.4" fill="#255E91"/>
<rect x="384.6" y="254.2" width="5.2" height="2.4" fill="#255E91"/>
<rect x="400.6" y="259.4" width="5.2" height="2.4" fill="#255E91"/>
<rect x="416.5" y="264.5" width="5.2" height="2.4" fill="#255E91"/>
<rect x="432.4" y="270" width="5.2" height="2.4" fill="#255E91"/>
<rect x="448.3" y="274.9" width="5.2" height="2.4" fill="#255E91"/>
<path d="M37 200.2L52.9 199.2L68.8 198.8L84.8 198.4L100.7 198.9L116.6 200.6L132.5 202.7L148.4 205.2L164.4 207.7L180.3 210.7L196.2 213.9L212.1 218.3L228 221.4L244 225.2L259.9 229.3L275.8 233.2L291.7 237.2L307.6 240.8L323.6 244.7L339.5 249L355.4 253.4L371.3 257.7L387.2 262.1L403.2 266.4L419.1 270.8L435 275.1L450.1 279.5" stroke="#43682B" stroke-width="1.5" fill="none" stroke-linejoin="round"/>
<path d="M33.6 196.8L40.4 203.6M33.6 203.6L40.4 196.8M37 196.8L37 203.6" stroke="#43682B" stroke-width="1.0" fill="none"/>
<path d="M49.5 195.8L56.3 202.6M49.5 202.6L56.3 195.8M52.9 195.8L52.9 202.6" stroke="#43682B" stroke-width="1.0" fill="none"/>
<path d="M65.4 195.4L72.2 202.2M65.4 202.2L72.2 195.4M68.8 195.4L68.8 202.2" stroke="#43682B" stroke-width="1.0" fill="none"/>
<path d="M81.4 195L88.2 201.8M81.4 201.8L88.2 195M84.8 195L84.8 201.8" stroke="#43682B" stroke-width="1.0" fill="none"/>
<path d="M97.3 195.5L104.1 202.3M97.3 202.3L104.1 195.5M100.7 195.5L100.7 202.3" stroke="#43682B" stroke-width="1.0" fill="none"/>
<path d="M113.2 197.2L120 204M113.2 204L120 197.2M116.6 197.2L116.6 204" stroke="#43682B" stroke-width="1.0" fill="none"/>
<path d="M129.1 199.3L135.9 206.1M129.1 206.1L135.9 199.3M132.5 199.3L132.5 206.1" stroke="#43682B" stroke-width="1.0" fill="none"/>
<path d="M145 201.8L151.8 208.6M145 208.6L151.8 201.8M148.4 201.8L148.4 208.6" stroke="#43682B" stroke-width="1.0" fill="none"/>
<path d="M161 204.3L167.8 211.1M161 211.1L167.8 204.3M164.4 204.3L164.4 211.1" stroke="#43682B" stroke-width="1.0" fill="none"/>
<path d="M176.9 207.3L183.7 214.1M176.9 214.1L183.7 207.3M180.3 207.3L180.3 214.1" stroke="#43682B" stroke-width="1.0" fill="none"/>
<path d="M192.8 210.5L199.6 217.3M192.8 217.3L199.6 210.5M196.2 210.5L196.2 217.3" stroke="#43682B" stroke-width="1.0" fill="none"/>
<path d="M208.7 214.9L215.5 221.7M208.7 221.7L215.5 214.9M212.1 214.9L212.1 221.7" stroke="#43682B" stroke-width="1.0" fill="none"/>
<path d="M224.6 218L231.4 224.8M224.6 224.8L231.4 218M228 218L228 224.8" stroke="#43682B" stroke-width="1.0" fill="none"/>
<path d="M240.6 221.8L247.4 228.6M240.6 228.6L247.4 221.8M244 221.8L244 228.6" stroke="#43682B" stroke-width="1.0" fill="none"/>
<path d="M256.5 225.9L263.3 232.7M256.5 232.7L263.3 225.9M259.9 225.9L259.9 232.7" stroke="#43682B" stroke-width="1.0" fill="none"/>
<path d="M272.4 229.8L279.2 236.6M272.4 236.6L279.2 229.8M275.8 229.8L275.8 236.6" stroke="#43682B" stroke-width="1.0" fill="none"/>
<path d="M288.3 233.8L295.1 240.6M288.3 240.6L295.1 233.8M291.7 233.8L291.7 240.6" stroke="#43682B" stroke-width="1.0" fill="none"/>
<path d="M304.2 237.4L311 244.2M304.2 244.2L311 237.4M307.6 237.4L307.6 244.2" stroke="#43682B" stroke-width="1.0" fill="none"/>
<path d="M320.2 241.3L327 248.1M320.2 248.1L327 241.3M323.6 241.3L323.6 248.1" stroke="#43682B" stroke-width="1.0" fill="none"/>
<path d="M336.1 245.6L342.9 252.4M336.1 252.4L342.9 245.6M339.5 245.6L339.5 252.4" stroke="#43682B" stroke-width="1.0" fill="none"/>
<path d="M352 250L358.8 256.8M352 256.8L358.8 250M355.4 250L355.4 256.8" stroke="#43682B" stroke-width="1.0" fill="none"/>
<path d="M367.9 254.3L374.7 261.1M367.9 261.1L374.7 254.3M371.3 254.3L371.3 261.1" stroke="#43682B" stroke-width="1.0" fill="none"/>
<path d="M383.8 258.7L390.6 265.5M383.8 265.5L390.6 258.7M387.2 258.7L387.2 265.5" stroke="#43682B" stroke-width="1.0" fill="none"/>
<path d="M399.8 263L406.6 269.8M399.8 269.8L406.6 263M403.2 263L403.2 269.8" stroke="#43682B" stroke-width="1.0" fill="none"/>
<path d="M415.7 267.4L422.5 274.2M415.7 274.2L422.5 267.4M419.1 267.4L419.1 274.2" stroke="#43682B" stroke-width="1.0" fill="none"/>
<path d="M431.6 271.7L438.4 278.5M431.6 278.5L438.4 271.7M435 271.7L435 278.5" stroke="#43682B" stroke-width="1.0" fill="none"/>
<path d="M37 206.4L52.9 206.9L68.8 207.7L84.8 208.4L100.7 209.6L116.6 211.8L132.5 213.9L148.4 216.9L164.4 219.7L180.3 222.7L196.2 225.8L212.1 228.9L228 232.2L244 235.2L259.9 238.9L275.8 242.7L291.7 246.4L307.6 249L323.6 252.2L339.5 255.8L355.4 259.4L371.3 263.1L387.2 266.4L403.2 269.8L419.1 272.7L435 276.1L449.9 279.5" stroke="#698ED0" stroke-width="1.5" fill="none" stroke-linejoin="round"/>
<path d="M33.4 202.8L40.6 210M33.4 210L40.6 202.8" stroke="#698ED0" stroke-width="1.2" fill="none"/>
<path d="M49.3 203.3L56.5 210.5M49.3 210.5L56.5 203.3" stroke="#698ED0" stroke-width="1.2" fill="none"/>
<path d="M65.2 204.1L72.4 211.3M65.2 211.3L72.4 204.1" stroke="#698ED0" stroke-width="1.2" fill="none"/>
<path d="M81.2 204.8L88.4 212M81.2 212L88.4 204.8" stroke="#698ED0" stroke-width="1.2" fill="none"/>
<path d="M97.1 206L104.3 213.2M97.1 213.2L104.3 206" stroke="#698ED0" stroke-width="1.2" fill="none"/>
<path d="M113 208.2L120.2 215.4M113 215.4L120.2 208.2" stroke="#698ED0" stroke-width="1.2" fill="none"/>
<path d="M128.9 210.3L136.1 217.5M128.9 217.5L136.1 210.3" stroke="#698ED0" stroke-width="1.2" fill="none"/>
<path d="M144.8 213.3L152 220.5M144.8 220.5L152 213.3" stroke="#698ED0" stroke-width="1.2" fill="none"/>
<path d="M160.8 216.1L168 223.3M160.8 223.3L168 216.1" stroke="#698ED0" stroke-width="1.2" fill="none"/>
<path d="M176.7 219.1L183.9 226.3M176.7 226.3L183.9 219.1" stroke="#698ED0" stroke-width="1.2" fill="none"/>
<path d="M192.6 222.2L199.8 229.4M192.6 229.4L199.8 222.2" stroke="#698ED0" stroke-width="1.2" fill="none"/>
<path d="M208.5 225.3L215.7 232.5M208.5 232.5L215.7 225.3" stroke="#698ED0" stroke-width="1.2" fill="none"/>
<path d="M224.4 228.6L231.6 235.8M224.4 235.8L231.6 228.6" stroke="#698ED0" stroke-width="1.2" fill="none"/>
<path d="M240.4 231.6L247.6 238.8M240.4 238.8L247.6 231.6" stroke="#698ED0" stroke-width="1.2" fill="none"/>
<path d="M256.3 235.3L263.5 242.5M256.3 242.5L263.5 235.3" stroke="#698ED0" stroke-width="1.2" fill="none"/>
<path d="M272.2 239.1L279.4 246.3M272.2 246.3L279.4 239.1" stroke="#698ED0" stroke-width="1.2" fill="none"/>
<path d="M288.1 242.8L295.3 250M288.1 250L295.3 242.8" stroke="#698ED0" stroke-width="1.2" fill="none"/>
<path d="M304 245.4L311.2 252.6M304 252.6L311.2 245.4" stroke="#698ED0" stroke-width="1.2" fill="none"/>
<path d="M320 248.6L327.2 255.8M320 255.8L327.2 248.6" stroke="#698ED0" stroke-width="1.2" fill="none"/>
<path d="M335.9 252.2L343.1 259.4M335.9 259.4L343.1 252.2" stroke="#698ED0" stroke-width="1.2" fill="none"/>
<path d="M351.8 255.8L359 263M351.8 263L359 255.8" stroke="#698ED0" stroke-width="1.2" fill="none"/>
<path d="M367.7 259.5L374.9 266.7M367.7 266.7L374.9 259.5" stroke="#698ED0" stroke-width="1.2" fill="none"/>
<path d="M383.6 262.8L390.8 270M383.6 270L390.8 262.8" stroke="#698ED0" stroke-width="1.2" fill="none"/>
<path d="M399.6 266.2L406.8 273.4M399.6 273.4L406.8 266.2" stroke="#698ED0" stroke-width="1.2" fill="none"/>
<path d="M415.5 269.1L422.7 276.3M415.5 276.3L422.7 269.1" stroke="#698ED0" stroke-width="1.2" fill="none"/>
<path d="M431.4 272.5L438.6 279.7M431.4 279.7L438.6 272.5" stroke="#698ED0" stroke-width="1.2" fill="none"/>
<path d="M37 213.9L52.9 214.7L68.8 215.6L84.8 216.9L100.7 218.9L116.6 221L132.5 223.4L148.4 225.9L164.4 228.4L180.3 231.5L196.2 234L212.1 236.4L228 239.7L244 242.7L259.9 246.1L275.8 249L291.7 252.7L307.6 255.3L323.6 258.2L339.5 261.1L355.4 264L371.3 267.2L387.2 270.2L403.2 272.7L419.1 275.1L435 278L443 279.5" stroke="#F1975A" stroke-width="1.5" fill="none" stroke-linejoin="round"/>
<path d="M37 211.1L39.8 216.7L34.2 216.7Z" fill="#F1975A"/>
<path d="M52.9 211.9L55.7 217.5L50.1 217.5Z" fill="#F1975A"/>
<path d="M68.8 212.8L71.6 218.4L66 218.4Z" fill="#F1975A"/>
<path d="M84.8 214.1L87.6 219.7L82 219.7Z" fill="#F1975A"/>
<path d="M100.7 216.1L103.5 221.7L97.9 221.7Z" fill="#F1975A"/>
<path d="M116.6 218.2L119.4 223.8L113.8 223.8Z" fill="#F1975A"/>
<path d="M132.5 220.6L135.3 226.2L129.7 226.2Z" fill="#F1975A"/>
<path d="M148.4 223.1L151.2 228.7L145.6 228.7Z" fill="#F1975A"/>
<path d="M164.4 225.6L167.2 231.2L161.6 231.2Z" fill="#F1975A"/>
<path d="M180.3 228.7L183.1 234.3L177.5 234.3Z" fill="#F1975A"/>
<path d="M196.2 231.2L199 236.8L193.4 236.8Z" fill="#F1975A"/>
<path d="M212.1 233.6L214.9 239.2L209.3 239.2Z" fill="#F1975A"/>
<path d="M228 236.9L230.8 242.5L225.2 242.5Z" fill="#F1975A"/>
<path d="M244 239.9L246.8 245.5L241.2 245.5Z" fill="#F1975A"/>
<path d="M259.9 243.3L262.7 248.9L257.1 248.9Z" fill="#F1975A"/>
<path d="M275.8 246.2L278.6 251.8L273 251.8Z" fill="#F1975A"/>
<path d="M291.7 249.9L294.5 255.5L288.9 255.5Z" fill="#F1975A"/>
<path d="M307.6 252.5L310.4 258.1L304.8 258.1Z" fill="#F1975A"/>
<path d="M323.6 255.4L326.4 261L320.8 261Z" fill="#F1975A"/>
<path d="M339.5 258.3L342.3 263.9L336.7 263.9Z" fill="#F1975A"/>
<path d="M355.4 261.2L358.2 266.8L352.6 266.8Z" fill="#F1975A"/>
<path d="M371.3 264.4L374.1 270L368.5 270Z" fill="#F1975A"/>
<path d="M387.2 267.4L390 273L384.4 273Z" fill="#F1975A"/>
<path d="M403.2 269.9L406 275.5L400.4 275.5Z" fill="#F1975A"/>
<path d="M419.1 272.3L421.9 277.9L416.3 277.9Z" fill="#F1975A"/>
<path d="M435 275.2L437.8 280.8L432.2 280.8Z" fill="#F1975A"/>
<path d="M37 221L52.9 221.9L68.8 223.4L84.8 225.8L100.7 227.7L116.6 229.4L132.5 232.1L148.4 234L164.4 235.7L180.3 238.2L196.2 240.9L212.1 243.2L228 245.9L244 248.5L259.9 251.4L275.8 254L291.7 256.4L307.6 259.2L323.6 261.6L339.5 264L355.4 266.9L371.3 269.8L387.2 272.7L403.2 275.1L419.1 277.6L429.7 279.5" stroke="#B7B7B7" stroke-width="1.2" fill="none" stroke-linejoin="round"/>
<path d="M37 217.7L40.3 221L37 224.3L33.7 221Z" fill="#B7B7B7" stroke="#3a3a3a" stroke-width="1.2"/>
<path d="M52.9 218.6L56.2 221.9L52.9 225.2L49.6 221.9Z" fill="#B7B7B7" stroke="#3a3a3a" stroke-width="1.2"/>
<path d="M68.8 220.1L72.1 223.4L68.8 226.7L65.5 223.4Z" fill="#B7B7B7" stroke="#3a3a3a" stroke-width="1.2"/>
<path d="M84.8 222.5L88.1 225.8L84.8 229.1L81.5 225.8Z" fill="#B7B7B7" stroke="#3a3a3a" stroke-width="1.2"/>
<path d="M100.7 224.4L104 227.7L100.7 231L97.4 227.7Z" fill="#B7B7B7" stroke="#3a3a3a" stroke-width="1.2"/>
<path d="M116.6 226.1L119.9 229.4L116.6 232.7L113.3 229.4Z" fill="#B7B7B7" stroke="#3a3a3a" stroke-width="1.2"/>
<path d="M132.5 228.8L135.8 232.1L132.5 235.4L129.2 232.1Z" fill="#B7B7B7" stroke="#3a3a3a" stroke-width="1.2"/>
<path d="M148.4 230.7L151.7 234L148.4 237.3L145.1 234Z" fill="#B7B7B7" stroke="#3a3a3a" stroke-width="1.2"/>
<path d="M164.4 232.4L167.7 235.7L164.4 239L161.1 235.7Z" fill="#B7B7B7" stroke="#3a3a3a" stroke-width="1.2"/>
<path d="M180.3 234.9L183.6 238.2L180.3 241.5L177 238.2Z" fill="#B7B7B7" stroke="#3a3a3a" stroke-width="1.2"/>
<path d="M196.2 237.6L199.5 240.9L196.2 244.2L192.9 240.9Z" fill="#B7B7B7" stroke="#3a3a3a" stroke-width="1.2"/>
<path d="M212.1 239.9L215.4 243.2L212.1 246.5L208.8 243.2Z" fill="#B7B7B7" stroke="#3a3a3a" stroke-width="1.2"/>
<path d="M228 242.6L231.3 245.9L228 249.2L224.7 245.9Z" fill="#B7B7B7" stroke="#3a3a3a" stroke-width="1.2"/>
<path d="M244 245.2L247.3 248.5L244 251.8L240.7 248.5Z" fill="#B7B7B7" stroke="#3a3a3a" stroke-width="1.2"/>
<path d="M259.9 248.1L263.2 251.4L259.9 254.7L256.6 251.4Z" fill="#B7B7B7" stroke="#3a3a3a" stroke-width="1.2"/>
<path d="M275.8 250.7L279.1 254L275.8 257.3L272.5 254Z" fill="#B7B7B7" stroke="#3a3a3a" stroke-width="1.2"/>
<path d="M291.7 253.1L295 256.4L291.7 259.7L288.4 256.4Z" fill="#B7B7B7" stroke="#3a3a3a" stroke-width="1.2"/>
<path d="M307.6 255.9L310.9 259.2L307.6 262.5L304.3 259.2Z" fill="#B7B7B7" stroke="#3a3a3a" stroke-width="1.2"/>
<path d="M323.6 258.3L326.9 261.6L323.6 264.9L320.3 261.6Z" fill="#B7B7B7" stroke="#3a3a3a" stroke-width="1.2"/>
<path d="M339.5 260.7L342.8 264L339.5 267.3L336.2 264Z" fill="#B7B7B7" stroke="#3a3a3a" stroke-width="1.2"/>
<path d="M355.4 263.6L358.7 266.9L355.4 270.2L352.1 266.9Z" fill="#B7B7B7" stroke="#3a3a3a" stroke-width="1.2"/>
<path d="M371.3 266.5L374.6 269.8L371.3 273.1L368 269.8Z" fill="#B7B7B7" stroke="#3a3a3a" stroke-width="1.2"/>
<path d="M387.2 269.4L390.5 272.7L387.2 276L383.9 272.7Z" fill="#B7B7B7" stroke="#3a3a3a" stroke-width="1.2"/>
<path d="M403.2 271.8L406.5 275.1L403.2 278.4L399.9 275.1Z" fill="#B7B7B7" stroke="#3a3a3a" stroke-width="1.2"/>
<path d="M419.1 274.3L422.4 277.6L419.1 280.9L415.8 277.6Z" fill="#B7B7B7" stroke="#3a3a3a" stroke-width="1.2"/>
<path d="M37 227.7L52.9 228.9L68.8 231.1L84.8 232.7L100.7 234.5L116.6 236.4L132.5 238.4L148.4 240.8L164.4 242.7L180.3 244.5L196.2 246.9L212.1 249L228 251.4L244 253.2L259.9 255.7L275.8 258.2L291.7 260.6L307.6 262.6L323.6 264.6L339.5 267.2L355.4 269.4L371.3 272.7L387.2 275.1L403.2 277.1L414.5 279.5" stroke="#FFCD33" stroke-width="1.5" fill="none" stroke-linejoin="round"/>
<rect x="34.4" y="225.1" width="5.3" height="5.3" fill="#FFCD33"/>
<rect x="50.3" y="226.2" width="5.3" height="5.3" fill="#FFCD33"/>
<rect x="66.2" y="228.5" width="5.3" height="5.3" fill="#FFCD33"/>
<rect x="82.1" y="230.1" width="5.3" height="5.3" fill="#FFCD33"/>
<rect x="98" y="231.9" width="5.3" height="5.3" fill="#FFCD33"/>
<rect x="114" y="233.8" width="5.3" height="5.3" fill="#FFCD33"/>
<rect x="129.9" y="235.7" width="5.3" height="5.3" fill="#FFCD33"/>
<rect x="145.8" y="238.1" width="5.3" height="5.3" fill="#FFCD33"/>
<rect x="161.7" y="240.1" width="5.3" height="5.3" fill="#FFCD33"/>
<rect x="177.6" y="241.8" width="5.3" height="5.3" fill="#FFCD33"/>
<rect x="193.6" y="244.3" width="5.3" height="5.3" fill="#FFCD33"/>
<rect x="209.5" y="246.4" width="5.3" height="5.3" fill="#FFCD33"/>
<rect x="225.4" y="248.8" width="5.3" height="5.3" fill="#FFCD33"/>
<rect x="241.3" y="250.5" width="5.3" height="5.3" fill="#FFCD33"/>
<rect x="257.2" y="253" width="5.3" height="5.3" fill="#FFCD33"/>
<rect x="273.2" y="255.6" width="5.3" height="5.3" fill="#FFCD33"/>
<rect x="289.1" y="258" width="5.3" height="5.3" fill="#FFCD33"/>
<rect x="305" y="259.9" width="5.3" height="5.3" fill="#FFCD33"/>
<rect x="320.9" y="262" width="5.3" height="5.3" fill="#FFCD33"/>
<rect x="336.8" y="264.5" width="5.3" height="5.3" fill="#FFCD33"/>
<rect x="352.8" y="266.8" width="5.3" height="5.3" fill="#FFCD33"/>
<rect x="368.7" y="270.1" width="5.3" height="5.3" fill="#FFCD33"/>
<rect x="384.6" y="272.5" width="5.3" height="5.3" fill="#FFCD33"/>
<rect x="400.5" y="274.4" width="5.3" height="5.3" fill="#FFCD33"/>
<g font-family="Liberation Sans, Arial, sans-serif" font-weight="700" fill="#000">
<g font-size="13px" text-anchor="end">
<text x="264.6" y="283.6">0.00</text>
<text x="264.6" y="259.4">0.05</text>
<text x="264.6" y="235.2">0.10</text>
<text x="264.6" y="211">0.15</text>
<text x="264.6" y="186.8">0.20</text>
<text x="264.6" y="162.7">0.25</text>
<text x="264.6" y="138.5">0.30</text>
<text x="264.6" y="114.3">0.35</text>
<text x="264.6" y="90.1">0.40</text>
<text x="264.6" y="65.9">0.45</text>
<text x="264.6" y="41.7">0.50</text>
</g>
<g font-size="13px" text-anchor="middle">
<text x="37" y="299.2">-15</text>
<text x="116.6" y="299.2">-10</text>
<text x="196.2" y="299.2">-5</text>
<text x="275.8" y="299.2">0</text>
<text x="355.4" y="299.2">5</text>
<text x="435" y="299.2">10</text>
<text x="514.6" y="299.2">15</text>
</g>
<text x="275.3" y="316.8" font-size="13.2px" text-anchor="middle">Pitch angle (deg)</text>
<text transform="translate(33.2 158.6) rotate(-90)" font-size="13.3px" text-anchor="middle">Power coefficient</text>
</g>
<g font-family="Liberation Sans, Arial, sans-serif" font-weight="700" font-size="11px" fill="#000">
<path d="M485.0 26H503.6" stroke="#4472C4" stroke-width="1.5" fill="none"/>
<circle cx="494.4" cy="26" r="3.35" fill="#4472C4"/>
<text x="505.7" y="29.9">3m/s</text>
<path d="M485.0 39.7H503.6" stroke="#ED7D31" stroke-width="1.5" fill="none"/>
<path d="M491 36.3L497.8 43.1M491 43.1L497.8 36.3M494.4 36.3L494.4 43.1" stroke="#ED7D31" stroke-width="1.0" fill="none"/>
<text x="505.7" y="43.6">4m/s</text>
<path d="M485.0 53.4H503.6" stroke="#A5A5A5" stroke-width="1.2" fill="none"/>
<path d="M490.8 53.4L498 53.4M494.4 49.8L494.4 57" stroke="#000" stroke-width="1.5" fill="none"/>
<text x="505.7" y="57.3">5m/s</text>
<path d="M485.0 67.1H503.6" stroke="#FFC000" stroke-width="1.5" fill="none"/>
<circle cx="494.4" cy="67.1" r="3.35" fill="#FFC000"/>
<text x="505.7" y="71">6m/s</text>
<path d="M485.0 80.8H503.6" stroke="#5B9BD5" stroke-width="1.5" fill="none"/>
<path d="M490.8 77.2L498 84.4M490.8 84.4L498 77.2" stroke="#5B9BD5" stroke-width="1.2" fill="none"/>
<text x="505.7" y="84.7">7m/s</text>
<path d="M485.0 94.5H503.6" stroke="#70AD47" stroke-width="1.5" fill="none"/>
<path d="M494.4 90.8L498.1 98.2L490.7 98.2Z" fill="#70AD47"/>
<text x="505.7" y="98.4">8m/s</text>
<path d="M485.0 108.2H503.6" stroke="#264478" stroke-width="1.5" fill="none"/>
<path d="M494.4 104.4L498.2 108.2L494.4 112L490.6 108.2Z" fill="#264478"/>
<text x="505.7" y="112.1">9m/s</text>
<path d="M485.0 121.9H503.6" stroke="#9E480E" stroke-width="1.5" fill="none"/>
<rect x="491.8" y="119.2" width="5.3" height="5.3" fill="#9E480E"/>
<text x="505.7" y="125.8">10m/s</text>
<path d="M485.0 135.5H503.6" stroke="#636363" stroke-width="1.5" fill="none"/>
<path d="M491.2 135.5L497.6 135.5M494.4 132.3L494.4 138.7" stroke="#636363" stroke-width="1.2" fill="none"/>
<text x="505.7" y="139.4">11m/s</text>
<path d="M485.0 149.2H503.6" stroke="#997300" stroke-width="1.5" fill="none"/>
<circle cx="494.4" cy="149.2" r="2.65" fill="#997300"/>
<text x="505.7" y="153.1">12m/s</text>
<path d="M485.0 162.9H503.6" stroke="#255E91" stroke-width="1.5" fill="none"/>
<rect x="491.8" y="160.7" width="5.2" height="2.4" fill="#255E91"/>
<text x="505.7" y="166.8">13m/s</text>
<path d="M485.0 176.6H503.6" stroke="#43682B" stroke-width="1.5" fill="none"/>
<path d="M491 173.2L497.8 180M491 180L497.8 173.2M494.4 173.2L494.4 180" stroke="#43682B" stroke-width="1.0" fill="none"/>
<text x="505.7" y="180.5">14m/s</text>
<path d="M485.0 190.3H503.6" stroke="#698ED0" stroke-width="1.5" fill="none"/>
<path d="M490.8 186.7L498 193.9M490.8 193.9L498 186.7" stroke="#698ED0" stroke-width="1.2" fill="none"/>
<text x="505.7" y="194.2">15m/s</text>
<path d="M485.0 204H503.6" stroke="#F1975A" stroke-width="1.5" fill="none"/>
<path d="M494.4 201.2L497.2 206.8L491.6 206.8Z" fill="#F1975A"/>
<text x="505.7" y="207.9">16m/s</text>
<path d="M485.0 217.7H503.6" stroke="#B7B7B7" stroke-width="1.2" fill="none"/>
<path d="M494.4 214.4L497.7 217.7L494.4 221L491.1 217.7Z" fill="#B7B7B7" stroke="#3a3a3a" stroke-width="1.2"/>
<text x="505.7" y="221.6">17m/s</text>
<path d="M485.0 231.4H503.6" stroke="#FFCD33" stroke-width="1.5" fill="none"/>
<rect x="491.8" y="228.7" width="5.3" height="5.3" fill="#FFCD33"/>
<text x="505.7" y="235.3">18m/s</text>
</g>
</svg>
</body></html>
